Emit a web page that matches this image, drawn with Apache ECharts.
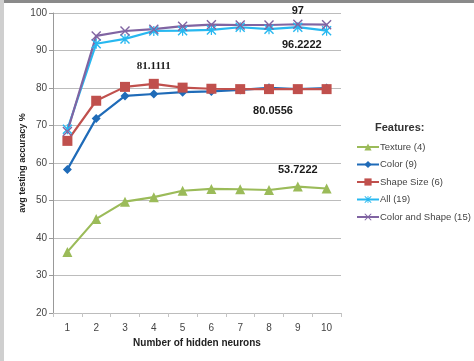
<!DOCTYPE html>
<html><head><meta charset="utf-8">
<script src="https://cdn.jsdelivr.net/npm/echarts@6/dist/echarts.min.js"></script>
<style>html,body{margin:0;padding:0;background:#fff}#c{width:474px;height:361px}</style>
</head><body><div id="c"></div>
<script>
const categories = ['1','2','3','4','5','6','7','8','9','10'];
const texture = [36.3, 45.1, 49.7, 50.9, 52.6, 53.1, 53.0, 52.8, 53.7222, 53.2];
const color = [58.3, 71.9, 77.9, 78.4, 78.9, 79.1, 79.5, 80.0556, 79.7, 80.0];
const shapeSize = [65.9, 76.6, 80.3, 81.1111, 80.1, 79.8, 79.7, 79.7, 79.7, 79.7];
const allFeat = [69.0, 91.8, 93.1, 95.2, 95.3, 95.5, 96.2, 95.7, 96.2222, 95.3];
const colorShape = [68.4, 93.9, 95.2, 95.7, 96.5, 96.9, 96.8, 96.8, 97, 96.9];
const seriesNames = ['Texture (4)', 'Color (9)', 'Shape Size (6)', 'All (19)', 'Color and Shape (15)'];
const yTicks = [20, 30, 40, 50, 60, 70, 80, 90, 100];

const X = 'path://M0,1 L1,0 L5,4 L9,0 L10,1 L6,5 L10,9 L9,10 L5,6 L1,10 L0,9 L4,5 Z';
const STAR = 'path://M0,1 L1,0 L5,4 L9,0 L10,1 L6,5 L10,9 L9,10 L5,6 L1,10 L0,9 L4,5 Z M4.4,0 L5.6,0 L5.6,10 L4.4,10 Z';

function withLabels(arr, idx, pos, dist, font, dx) {
  return arr.map((v, i) => i === idx ? {
    value: v,
    label: {show: true, position: pos, distance: dist, fontWeight: 'bold', fontSize: 11,
      fontFamily: font || 'Liberation Sans, Arial, sans-serif', color: '#1a1a1a',
      offset: [dx || 0, 0], formatter: String(v)}
  } : v);
}

const chart = echarts.init(document.getElementById('c'));
chart.setOption({
  animation: false,
  title: {text: 'Features:', left: 370, top: 117,
    textStyle: {fontSize: 11, fontWeight: 'bold', color: '#333', fontFamily: 'Liberation Sans, Arial, sans-serif'}},
  legend: {
    orient: 'vertical', left: 351, top: 137, itemGap: 7.5, itemWidth: 22, itemHeight: 9,
    data: seriesNames,
    textStyle: {fontSize: 9.5, color: '#444', fontFamily: 'Liberation Sans, Arial, sans-serif', padding: [0,0,0,-4]}
  },
  grid: {left: 53, right: 133, top: 13, bottom: 48},
  xAxis: {
    type: 'category', data: categories, boundaryGap: true,
    name: 'Number of hidden neurons', nameLocation: 'middle', nameGap: 24,
    nameTextStyle: {fontWeight: 'bold', fontSize: 10, color: '#222', fontFamily: 'Liberation Sans, Arial, sans-serif'},
    axisLine: {show: false},
    axisTick: {show: true, length: 4, lineStyle: {color: '#c4c4c4'}},
    axisLabel: {fontSize: 10, color: '#444', margin: 10, fontFamily: 'Liberation Sans, Arial, sans-serif'}
  },
  yAxis: {
    type: 'value', min: yTicks[0], max: yTicks[yTicks.length-1], interval: 10,
    name: 'avg testing accuracy %', nameLocation: 'middle', nameGap: 26, nameMoveOverlap: false,
    nameTextStyle: {fontWeight: 'bold', fontSize: 9, color: '#222', fontFamily: 'Liberation Sans, Arial, sans-serif'},
    axisLine: {show: true, lineStyle: {color: '#999'}},
    axisTick: {show: true, length: 4, lineStyle: {color: '#999'}},
    axisLabel: {fontSize: 10, color: '#444', margin: 6, fontFamily: 'Liberation Sans, Arial, sans-serif'},
    splitLine: {lineStyle: {color: '#bcbcbc'}}
  },
  series: [
    {name: seriesNames[0], type: 'line', data: withLabels(texture, 8, 'top', 6),
      symbol: 'triangle', symbolSize: 10, color: '#9BBB59', lineStyle: {width: 2.2}},
    {name: seriesNames[1], type: 'line', data: withLabels(color, 7, 'bottom', 13, null, 4),
      symbol: 'diamond', symbolSize: 9, color: '#1F6BB8', lineStyle: {width: 2.2}},
    {name: seriesNames[2], type: 'line', data: withLabels(shapeSize, 3, 'top', 7, 'Liberation Serif, Times New Roman, serif'),
      symbol: 'rect', symbolSize: 10, color: '#C0504D', lineStyle: {width: 2.2}},
    {name: seriesNames[3], type: 'line', data: withLabels(allFeat, 8, 'bottom', 7, null, 4),
      symbol: STAR, symbolSize: 10, color: '#27B8F0', lineStyle: {width: 2.2}},
    {name: seriesNames[4], type: 'line', data: withLabels(colorShape, 8, 'top', 3),
      symbol: X, symbolSize: 10, color: '#8064A2', lineStyle: {width: 2.2}}
  ],
  graphic: [
    {type: 'rect', left: 0, top: 0, shape: {width: 474, height: 3}, style: {fill: '#8a8a8a'}, silent: true},
    {type: 'rect', left: 0, top: 0, shape: {width: 4, height: 361}, style: {fill: '#cfcfcf'}, silent: true}
  ]
});
</script></body></html>
